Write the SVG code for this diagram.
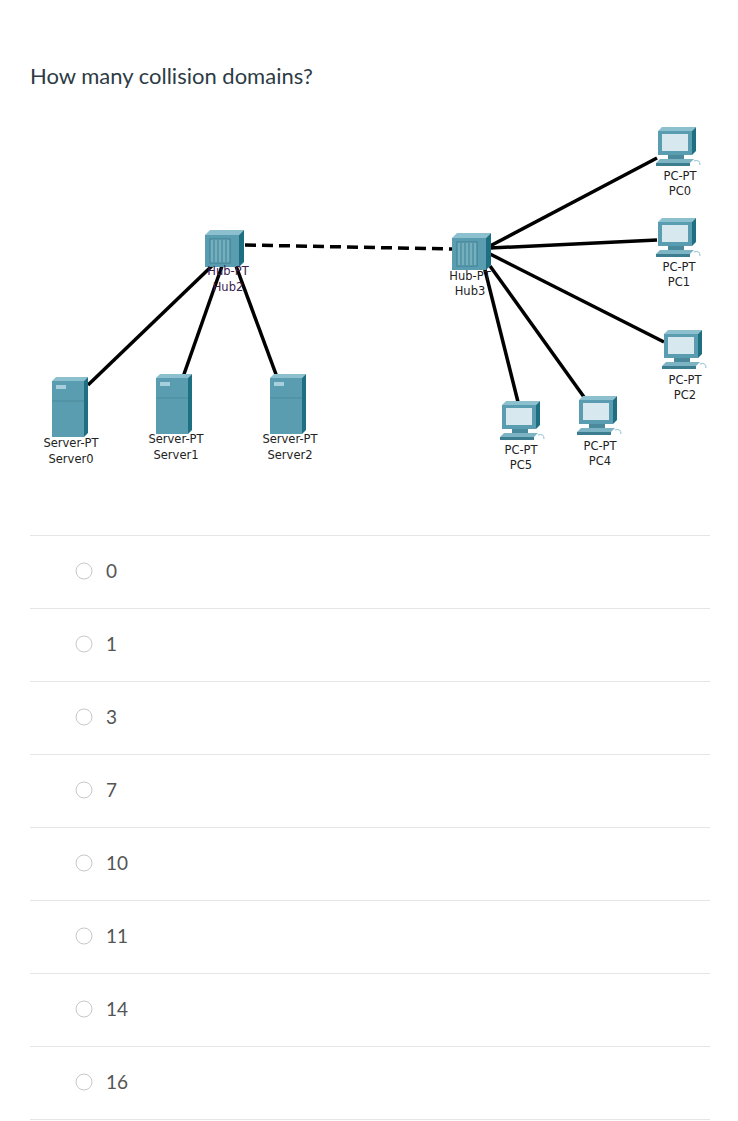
<svg xmlns="http://www.w3.org/2000/svg" width="738" height="1121" viewBox="0 0 738 1121">
<style>
.t{font-family:Lato,"Open Sans",sans-serif;fill:#2d3b45}
.q{font-size:22px}
.o{font-size:19px;fill:#555}
.lb{font-family:"DejaVu Sans",Verdana,sans-serif;font-size:11.5px;fill:#222;text-anchor:middle}
.hl{fill:#3a2250}
.sep{stroke:#e6e6e6;stroke-width:1}
.rad{fill:#fff;stroke:#c8c8c8;stroke-width:1}
.ln{stroke:#000;stroke-width:3.5;fill:none}
</style>
<defs>
<g id="srv">
<polygon points="0,4 4,0 36,0 32,4" fill="#8cc0cf"/>
<polygon points="32,4 36,0 36,56 32,60" fill="#1f6f82"/>
<rect x="0" y="4" width="32" height="56" fill="#5a9db0"/>
<rect x="4" y="8" width="10" height="4" fill="#a8d0dc"/>
<line x1="0" y1="24" x2="32" y2="24" stroke="#4a8a9c"/>
</g>
<g id="hub">
<polygon points="0,5 5,0 39,0 34,5" fill="#8cc0cf"/>
<polygon points="34,5 39,0 39,32 34,37" fill="#1f6f82"/>
<rect x="0" y="5" width="34" height="32" fill="#5a9db0"/>
<rect x="5" y="9" width="20" height="24" fill="#74afc0" stroke="#3c7e90"/>
<path d="M9 10v22M13 10v22M17 10v22M21 10v22" stroke="#3c7e90"/>
</g>
<g id="pc">
<polygon points="2,4 6,0 40,0 36,4" fill="#8cc0cf"/>
<polygon points="36,4 40,0 40,24 36,28" fill="#1f6f82"/>
<rect x="2" y="4" width="34" height="24" fill="#5a9db0"/>
<rect x="6" y="7" width="26" height="17" fill="#d7e8ee"/>
<rect x="12" y="28" width="16" height="4" fill="#4a8a9c"/>
<polygon points="0,36 4,32 38,32 34,36" fill="#7cb4c4"/>
<rect x="0" y="36" width="34" height="3" fill="#3c7e90"/>
<path d="M38 34q6-2 6 4" stroke="#8cc0cf" fill="none"/>
</g>
</defs>
<rect width="738" height="1121" fill="#fff"/>
<text class="t q" x="30" y="84">How many collision domains?</text>
<g id="connectors">
<line class="ln" x1="245" y1="245" x2="452" y2="249" stroke-dasharray="11,6"/>
<line class="ln" x1="88" y1="385" x2="216" y2="262"/>
<line class="ln" x1="183" y1="377" x2="222" y2="266"/>
<line class="ln" x1="277" y1="377" x2="236" y2="266"/>
<line class="ln" x1="490" y1="246" x2="657" y2="158"/>
<line class="ln" x1="490" y1="248" x2="657" y2="240"/>
<line class="ln" x1="490" y1="254" x2="664" y2="342"/>
<line class="ln" x1="484" y1="266" x2="518" y2="402"/>
<line class="ln" x1="490" y1="266" x2="584" y2="397"/>
</g>
<g id="hub2"><use href="#hub" x="205" y="230"/><text class="lb hl" x="228" y="275">Hub-PT</text><text class="lb hl" x="228" y="291">Hub2</text></g>
<g id="hub3"><use href="#hub" x="452" y="233"/><text class="lb" x="470" y="280">Hub-PT</text><text class="lb" x="470" y="295">Hub3</text></g>
<g id="server0"><use href="#srv" x="52" y="377"/><text class="lb" x="71" y="447">Server-PT</text><text class="lb" x="71" y="463">Server0</text></g>
<g id="server1"><use href="#srv" x="156" y="374"/><text class="lb" x="176" y="443">Server-PT</text><text class="lb" x="176" y="459">Server1</text></g>
<g id="server2"><use href="#srv" x="270" y="374"/><text class="lb" x="290" y="443">Server-PT</text><text class="lb" x="290" y="459">Server2</text></g>
<g id="pc0"><use href="#pc" x="656" y="127"/><text class="lb" x="680" y="180">PC-PT</text><text class="lb" x="680" y="195">PC0</text></g>
<g id="pc1"><use href="#pc" x="656" y="218"/><text class="lb" x="679" y="271">PC-PT</text><text class="lb" x="679" y="286">PC1</text></g>
<g id="pc2"><use href="#pc" x="662" y="330"/><text class="lb" x="685" y="384">PC-PT</text><text class="lb" x="685" y="399">PC2</text></g>
<g id="pc5"><use href="#pc" x="500" y="401"/><text class="lb" x="521" y="454">PC-PT</text><text class="lb" x="521" y="469">PC5</text></g>
<g id="pc4"><use href="#pc" x="577" y="396"/><text class="lb" x="600" y="450">PC-PT</text><text class="lb" x="600" y="465">PC4</text></g>
<g id="options">
<line class="sep" x1="30" y1="535.5" x2="710" y2="535.5"/>
<line class="sep" x1="30" y1="608.5" x2="710" y2="608.5"/>
<line class="sep" x1="30" y1="681.5" x2="710" y2="681.5"/>
<line class="sep" x1="30" y1="754.5" x2="710" y2="754.5"/>
<line class="sep" x1="30" y1="827.5" x2="710" y2="827.5"/>
<line class="sep" x1="30" y1="900.5" x2="710" y2="900.5"/>
<line class="sep" x1="30" y1="973.5" x2="710" y2="973.5"/>
<line class="sep" x1="30" y1="1046.5" x2="710" y2="1046.5"/>
<line class="sep" x1="30" y1="1119.5" x2="710" y2="1119.5"/>
<circle class="rad" cx="84" cy="571" r="8"/><text class="t o" x="106" y="578">0</text>
<circle class="rad" cx="84" cy="644" r="8"/><text class="t o" x="106" y="651">1</text>
<circle class="rad" cx="84" cy="717" r="8"/><text class="t o" x="106" y="724">3</text>
<circle class="rad" cx="84" cy="790" r="8"/><text class="t o" x="106" y="797">7</text>
<circle class="rad" cx="84" cy="863" r="8"/><text class="t o" x="106" y="870">10</text>
<circle class="rad" cx="84" cy="936" r="8"/><text class="t o" x="106" y="943">11</text>
<circle class="rad" cx="84" cy="1009" r="8"/><text class="t o" x="106" y="1016">14</text>
<circle class="rad" cx="84" cy="1082" r="8"/><text class="t o" x="106" y="1089">16</text>
</g>
</svg>
